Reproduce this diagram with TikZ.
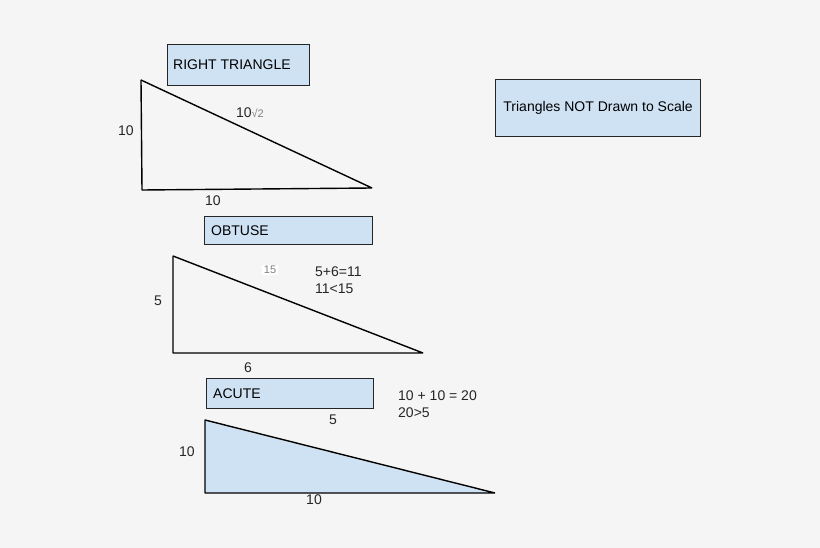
\documentclass[tikz,border=0pt]{standalone}
\usepackage{fontspec}
\setmainfont{Liberation Sans}
\usetikzlibrary{positioning,calc}
\definecolor{pagebg}{HTML}{F5F5F5}
\definecolor{boxblue}{HTML}{CFE2F3}
\definecolor{edgegray}{HTML}{262626}
\newcommand{\minor}{\fontsize{11}{13}\selectfont}
\begin{document}
\begin{tikzpicture}[
      x=1pt, y=-1pt,
      font=\fontsize{14}{17}\selectfont,
      title/.style={draw=edgegray, line width=1.2pt, fill=boxblue, anchor=north west, inner sep=0pt},
      side/.style={draw=black, line width=1.4pt, line join=bevel},
      lbl/.style={inner sep=1pt, text=black!85},
      note/.style={inner sep=1pt, anchor=west, align=left, text=black!85}
    ]

    % page
    \fill[pagebg] (0,0) rectangle (820,548);
    \useasboundingbox (0,0) rectangle (820,548);

    % boxes
    \node[title, minimum width=142pt, minimum height=41pt] (rtbox) at (167,44) {};
    \node[anchor=west, inner sep=0pt] (rtname) at ($(rtbox.west)+(6,0)$) {RIGHT TRIANGLE};

    \node[title, minimum width=205pt, minimum height=57pt] (scale) at (495,79) {};
    \node[inner sep=0pt] (scaletxt) at (scale.center) {Triangles NOT Drawn to Scale};

    \node[title, minimum width=168pt, minimum height=28pt] (obbox) at (204,216) {};
    \node[anchor=west, inner sep=0pt] (obname) at ($(obbox.west)+(7,0)$) {OBTUSE};

    \node[title, minimum width=167pt, minimum height=30pt] (acbox) at (206,378) {};
    \node[anchor=west, inner sep=0pt] (acname) at ($(acbox.west)+(7,0)$) {ACUTE};

    % right triangle
    \coordinate (rA) at (141,80);
    \coordinate (rB) at (142,190);
    \coordinate (rC) at (372,188);
    \draw[side] (rA) -- (rB) -- (rC) -- cycle;
    \node[lbl] (r1) at (126,131) {10};
    \node[lbl] (r2) at (250,113) {10\textcolor{gray}{\minor √2}};
    \node[lbl] (r3) at (213,201) {10};

    % obtuse triangle
    \coordinate (oA) at (173,256);
    \coordinate (oB) at (173,353);
    \coordinate (oC) at (423,353);
    \draw[side] (oA) -- (oB) -- (oC) -- cycle;
    \node[lbl] (o1) at (158,301) {5};
    \node[lbl, fill=white, inner sep=1.5pt, text=gray] (o2) at (270,270) {\minor 15};
    \node[lbl] (o3) at (248,368) {6};
    \node[note] (osum) at (314,280) {5+6=11\\11<15};

    % acute triangle
    \coordinate (aA) at (205,420);
    \coordinate (aB) at (205,493);
    \coordinate (aC) at (495,493);
    \draw[side, fill=boxblue] (aA) -- (aB) -- (aC) -- cycle;
    \node[lbl] (a1) at (187,452) {10};
    \node[lbl] (a2) at (314,500) {10};
    \node[lbl] (a3) at (333,420) {5};
    \node[note] (asum) at (397,404) {10 + 10 = 20\\20>5};

  \end{tikzpicture}
\end{document}
